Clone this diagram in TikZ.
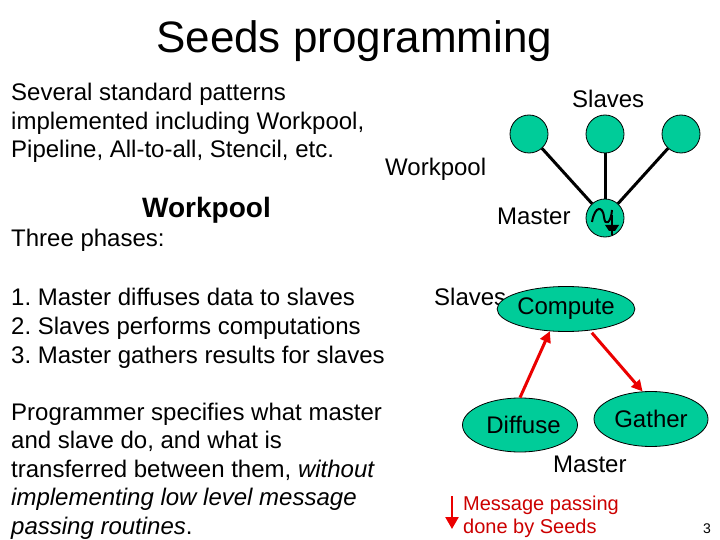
\documentclass[tikz,border=0pt]{standalone}
\usepackage{fontspec}
\setmainfont{Liberation Sans}
\usetikzlibrary{arrows.meta,shapes.geometric}
\definecolor{seedgreen}{RGB}{0,204,153}
\definecolor{arrowred}{RGB}{235,0,0}
\definecolor{textred}{RGB}{204,0,0}
\frenchspacing
\begin{document}
\begin{tikzpicture}[x=1pt,y=-1pt,
  txt/.style={inner sep=0pt, anchor=base west, font=\fontsize{24}{28.6}\selectfont},
  redtxt/.style={inner sep=0pt, anchor=base west, font=\fontsize{20}{23}\selectfont, text=textred},
  slave/.style={circle, draw=black, line width=0.8pt, fill=seedgreen, minimum size=38pt, inner sep=0pt},
  phase/.style={ellipse, draw=black, line width=0.8pt, fill=seedgreen, inner sep=0pt, font=\fontsize{24}{28}\selectfont},
  link/.style={line width=3pt},
  flow/.style={draw=arrowred, line width=3pt, -{Triangle[length=11pt,width=11pt]}, arrowred}
]
\useasboundingbox (0,0) rectangle (720,540);
% title
\node[inner sep=0pt, anchor=base west, font=\fontsize{44}{50}\selectfont] (title) at (156,53) {Seeds programming};
% left texts
\node[txt] (intro1) at (11,101) {Several standard patterns};
\node[txt] (intro2) at (11,129.5) {implemented including Workpool,};
\node[txt] (intro3) at (11,158) {Pipeline, All-to-all, Stencil, etc.};
\node[inner sep=0pt, anchor=base west, font=\fontsize{28}{32}\selectfont\bfseries] (wphead) at (142,218) {Workpool};
\node[txt] (three) at (11,247) {Three phases:};
\node[txt] (ph1) at (11,305) {1. Master diffuses data to slaves};
\node[txt] (ph2) at (11,334) {2. Slaves performs computations};
\node[txt] (ph3) at (11,363) {3. Master gathers results for slaves};
\node[txt] (prog1) at (11,420) {Programmer specifies what master};
\node[txt] (prog2) at (11,448.5) {and slave do, and what is};
\node[txt] (prog3) at (11,477) {transferred between them, \textit{without}};
\node[txt] (prog4) at (11,505.5) {\textit{implementing low level message}};
\node[txt] (prog5) at (11,534) {\textit{passing routines}.};
% workpool tree
\node[txt] (slaveslbl) at (572,108) {Slaves};
\node[txt] (wplbl) at (385,176) {Workpool};
\node[txt] (masterlbl) at (497,225) {Master};
\node[slave] (s1) at (529,134) {};
\node[slave] (s2) at (605,134) {};
\node[slave] (s3) at (681,134) {};
\node[slave] (m) at (605,218) {};
\draw[link] (s1) -- (m);
\draw[link] (s2) -- (m);
\draw[link] (s3) -- (m);
\begin{scope}[shift={(m.center)}]
  \draw[line width=2pt] (-13,4) .. controls (-10,-13) and (-2,-12) .. (-1,-1)
     .. controls (0,9) and (6,5) .. (7,-8);
  \draw[line width=2.2pt] (7,-3) -- (7,17);
  \fill (0,7) -- (14,7) -- (10,13) -- (4,13) -- cycle;
\end{scope}
% phases cycle
\node[txt] (slaves2) at (434,305) {Slaves};
\node[phase, minimum width=115pt, minimum height=45pt] (compute) at (566,309) {Compute};
\node[phase, minimum width=115pt, minimum height=54pt] (diffuse) at (520,425) {\hspace*{7pt}Diffuse};
\node[phase, minimum width=114pt, minimum height=55pt] (gather) at (651,419) {Gather};
\node[txt] (master2) at (553,472) {Master};
\draw[flow] (diffuse.north) -- (compute.234);
\draw[flow, shorten <=3pt] (compute.318) -- (gather.107);
% legend
\coordinate (legtop) at (452,496);
\coordinate (legbot) at (452,529);
\draw[flow, line width=2.5pt, -{Triangle[length=12pt,width=13pt]}] (legtop) -- (legbot);
\node[redtxt] (legend1) at (463,510) {Message passing};
\node[redtxt] (legend2) at (463,533) {done by Seeds};
\node[inner sep=0pt, anchor=base west, font=\fontsize{14}{16}\selectfont] (pagenum) at (703,533) {3};
\end{tikzpicture}
\end{document}
